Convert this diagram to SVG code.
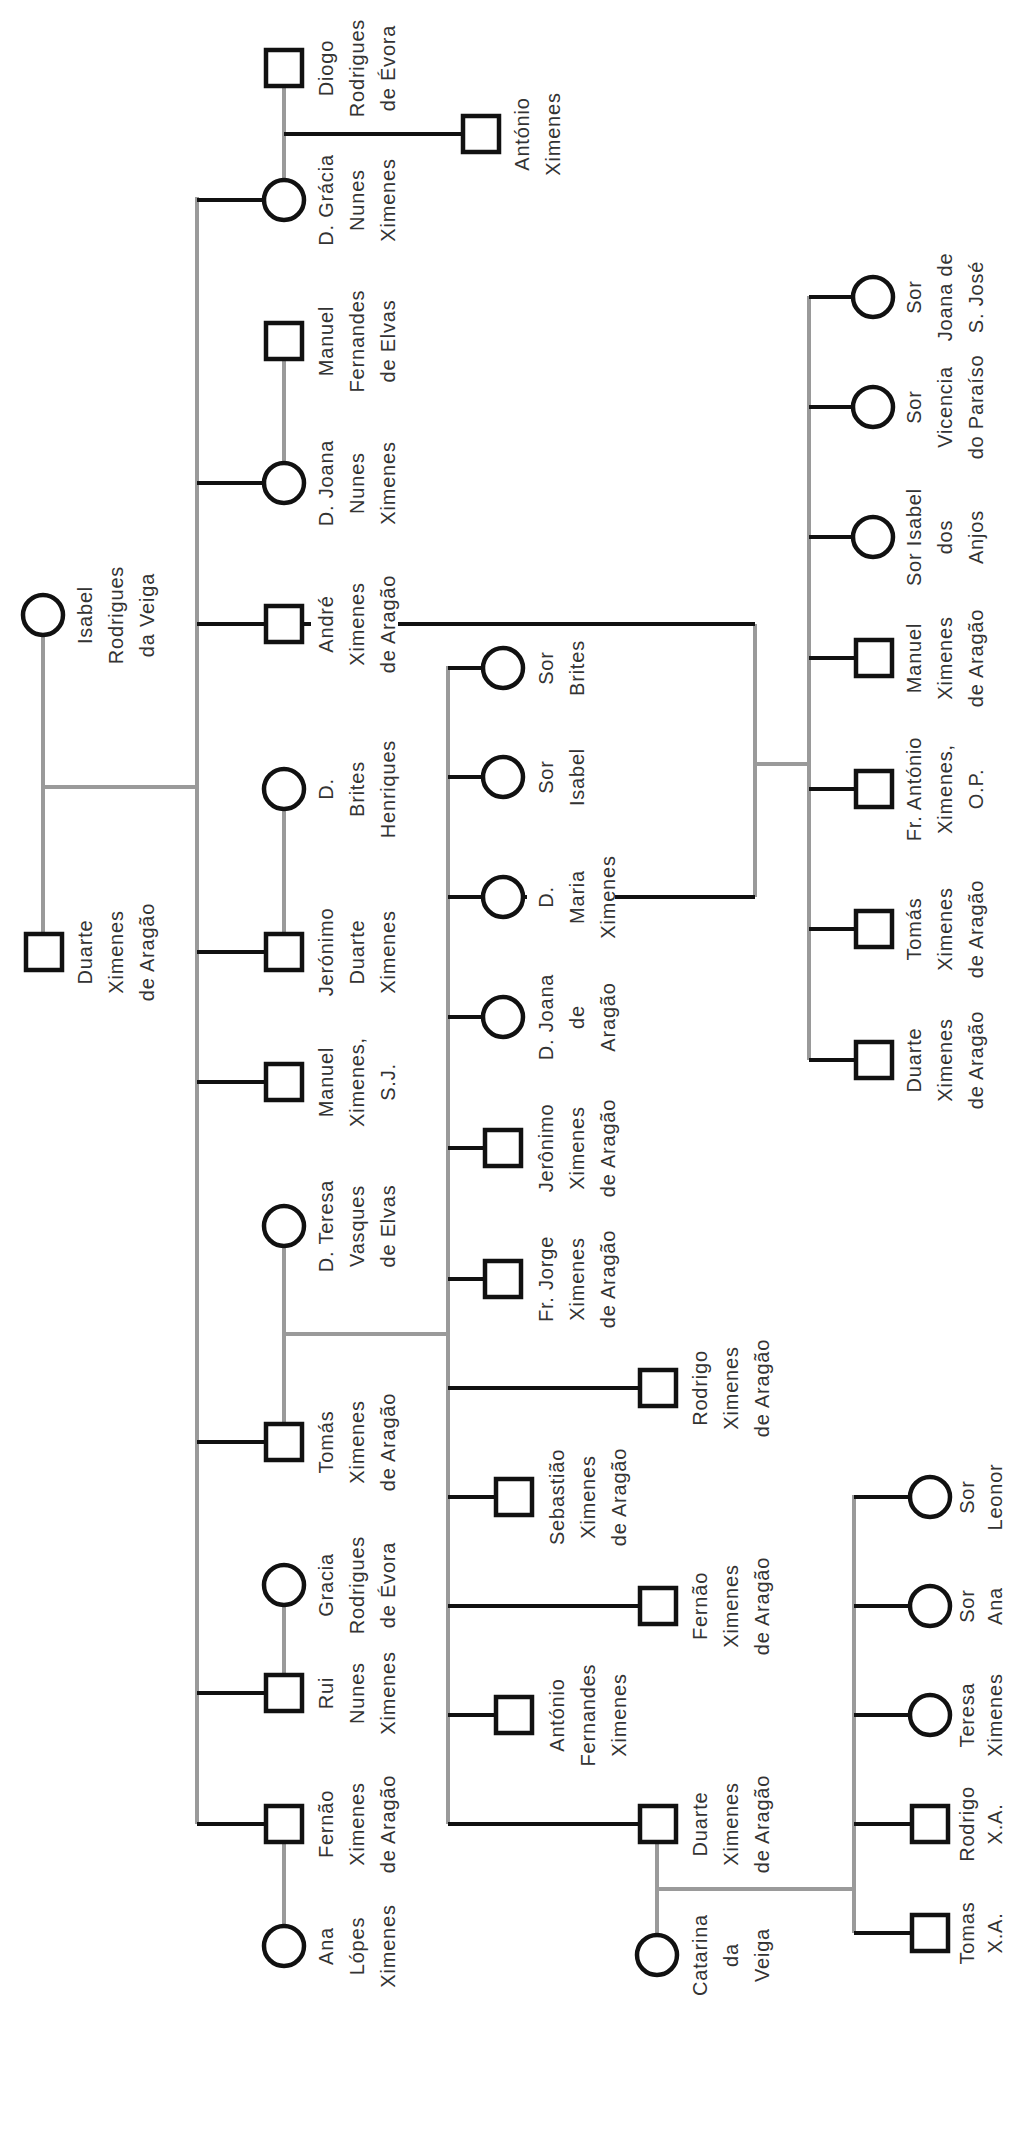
<svg xmlns="http://www.w3.org/2000/svg" width="1009" height="2130" viewBox="0 0 1009 2130">
<style>
.g{stroke:#9a9a9a;stroke-width:4;fill:none}
.b{stroke:#111;stroke-width:4;fill:none}
.sq,.ci{fill:#fff;stroke:#111;stroke-width:4.5}
text{font-family:"Liberation Sans",Arial,sans-serif;font-size:20px;fill:#333;letter-spacing:0.8px;text-anchor:middle}
</style>
<rect width="1009" height="2130" fill="#fff"/>
<g id="connectors">
<path class="g" d="M43 635V934M43 787H197M197 197V1824M284 86V181M284 341V464M284 809V934M284 1246V1424M284 1334H448M448 666V1824M284 1605V1675M284 1842V1926M755 624V897M755 764H809M809 296V1060M657 1842V1935M657 1889H854M854 1495V1933"/>
<path class="b" d="M197 200H265M197 483H265M197 624H265M197 952H265M197 1082H265M197 1442H265M197 1693H265M197 1824H265M284 134H462M303 624H311M398 624H755M523 897H527M615 897H755M448 668H484M448 777H484M448 897H484M448 1017H484M448 1148H484M448 1279H484M448 1388H639M448 1606H639M448 1824H639M448 1497H495M448 1715H495M809 297H855M809 407H855M809 537H855M809 658H855M809 789H855M809 929H855M809 1060H855M854 1497H911M854 1606H911M854 1715H911M854 1824H911M854 1933H911"/>
</g>
<g id="isabel"><circle class="ci" cx="43" cy="615" r="20"/><text transform="translate(92,615) rotate(-90)"><tspan x="0" y="0">Isabel</tspan><tspan x="0" y="31">Rodrigues</tspan><tspan x="0" y="62">da Veiga</tspan></text></g>
<g id="duarte1"><rect class="sq" x="26" y="934" width="36" height="36"/><text transform="translate(92,952) rotate(-90)"><tspan x="0" y="0">Duarte</tspan><tspan x="0" y="31">Ximenes</tspan><tspan x="0" y="62">de Aragão</tspan></text></g>
<g id="diogo"><rect class="sq" x="266" y="50" width="36" height="36"/><text transform="translate(333,68) rotate(-90)"><tspan x="0" y="0">Diogo</tspan><tspan x="0" y="31">Rodrigues</tspan><tspan x="0" y="62">de Évora</tspan></text></g>
<g id="gracia"><circle class="ci" cx="284" cy="200" r="20"/><text transform="translate(333,200) rotate(-90)"><tspan x="0" y="0">D. Grácia</tspan><tspan x="0" y="31">Nunes</tspan><tspan x="0" y="62">Ximenes</tspan></text></g>
<g id="antonio1"><rect class="sq" x="463" y="116" width="36" height="36"/><text transform="translate(529,134) rotate(-90)"><tspan x="0" y="0">António</tspan><tspan x="0" y="31">Ximenes</tspan></text></g>
<g id="manuelf"><rect class="sq" x="266" y="323" width="36" height="36"/><text transform="translate(333,341) rotate(-90)"><tspan x="0" y="0">Manuel</tspan><tspan x="0" y="31">Fernandes</tspan><tspan x="0" y="62">de Elvas</tspan></text></g>
<g id="djoana"><circle class="ci" cx="284" cy="483" r="20"/><text transform="translate(333,483) rotate(-90)"><tspan x="0" y="0">D. Joana</tspan><tspan x="0" y="31">Nunes</tspan><tspan x="0" y="62">Ximenes</tspan></text></g>
<g id="andre"><rect class="sq" x="266" y="606" width="36" height="36"/><text transform="translate(333,624) rotate(-90)"><tspan x="0" y="0">André</tspan><tspan x="0" y="31">Ximenes</tspan><tspan x="0" y="62">de Aragão</tspan></text></g>
<g id="brites"><circle class="ci" cx="284" cy="789" r="20"/><text transform="translate(333,789) rotate(-90)"><tspan x="0" y="0">D.</tspan><tspan x="0" y="31">Brites</tspan><tspan x="0" y="62">Henriques</tspan></text></g>
<g id="jeronimo"><rect class="sq" x="266" y="934" width="36" height="36"/><text transform="translate(333,952) rotate(-90)"><tspan x="0" y="0">Jerónimo</tspan><tspan x="0" y="31">Duarte</tspan><tspan x="0" y="62">Ximenes</tspan></text></g>
<g id="manuelsj"><rect class="sq" x="266" y="1064" width="36" height="36"/><text transform="translate(333,1082) rotate(-90)"><tspan x="0" y="0">Manuel</tspan><tspan x="0" y="31">Ximenes,</tspan><tspan x="0" y="62">S.J.</tspan></text></g>
<g id="teresa"><circle class="ci" cx="284" cy="1226" r="20"/><text transform="translate(333,1226) rotate(-90)"><tspan x="0" y="0">D. Teresa</tspan><tspan x="0" y="31">Vasques</tspan><tspan x="0" y="62">de Elvas</tspan></text></g>
<g id="tomas"><rect class="sq" x="266" y="1424" width="36" height="36"/><text transform="translate(333,1442) rotate(-90)"><tspan x="0" y="0">Tomás</tspan><tspan x="0" y="31">Ximenes</tspan><tspan x="0" y="62">de Aragão</tspan></text></g>
<g id="graciar"><circle class="ci" cx="284" cy="1585" r="20"/><text transform="translate(333,1585) rotate(-90)"><tspan x="0" y="0">Gracia</tspan><tspan x="0" y="31">Rodrigues</tspan><tspan x="0" y="62">de Évora</tspan></text></g>
<g id="rui"><rect class="sq" x="266" y="1675" width="36" height="36"/><text transform="translate(333,1693) rotate(-90)"><tspan x="0" y="0">Rui</tspan><tspan x="0" y="31">Nunes</tspan><tspan x="0" y="62">Ximenes</tspan></text></g>
<g id="fernao"><rect class="sq" x="266" y="1806" width="36" height="36"/><text transform="translate(333,1824) rotate(-90)"><tspan x="0" y="0">Fernão</tspan><tspan x="0" y="31">Ximenes</tspan><tspan x="0" y="62">de Aragão</tspan></text></g>
<g id="ana"><circle class="ci" cx="284" cy="1946" r="20"/><text transform="translate(333,1946) rotate(-90)"><tspan x="0" y="0">Ana</tspan><tspan x="0" y="31">Lópes</tspan><tspan x="0" y="62">Ximenes</tspan></text></g>
<g id="sorbrites"><circle class="ci" cx="503" cy="668" r="20"/><text transform="translate(553,668) rotate(-90)"><tspan x="0" y="0">Sor</tspan><tspan x="0" y="31">Brites</tspan></text></g>
<g id="sorisabel"><circle class="ci" cx="503" cy="777" r="20"/><text transform="translate(553,777) rotate(-90)"><tspan x="0" y="0">Sor</tspan><tspan x="0" y="31">Isabel</tspan></text></g>
<g id="dmaria"><circle class="ci" cx="503" cy="897" r="20"/><text transform="translate(553,897) rotate(-90)"><tspan x="0" y="0">D.</tspan><tspan x="0" y="31">Maria</tspan><tspan x="0" y="62">Ximenes</tspan></text></g>
<g id="djoanaa"><circle class="ci" cx="503" cy="1017" r="20"/><text transform="translate(553,1017) rotate(-90)"><tspan x="0" y="0">D. Joana</tspan><tspan x="0" y="31">de</tspan><tspan x="0" y="62">Aragão</tspan></text></g>
<g id="jeronimoxa"><rect class="sq" x="485" y="1130" width="36" height="36"/><text transform="translate(553,1148) rotate(-90)"><tspan x="0" y="0">Jerônimo</tspan><tspan x="0" y="31">Ximenes</tspan><tspan x="0" y="62">de Aragão</tspan></text></g>
<g id="frjorge"><rect class="sq" x="485" y="1261" width="36" height="36"/><text transform="translate(553,1279) rotate(-90)"><tspan x="0" y="0">Fr. Jorge</tspan><tspan x="0" y="31">Ximenes</tspan><tspan x="0" y="62">de Aragão</tspan></text></g>
<g id="rodrigo"><rect class="sq" x="640" y="1370" width="36" height="36"/><text transform="translate(707,1388) rotate(-90)"><tspan x="0" y="0">Rodrigo</tspan><tspan x="0" y="31">Ximenes</tspan><tspan x="0" y="62">de Aragão</tspan></text></g>
<g id="sebastiao"><rect class="sq" x="496" y="1479" width="36" height="36"/><text transform="translate(564,1497) rotate(-90)"><tspan x="0" y="0">Sebastião</tspan><tspan x="0" y="31">Ximenes</tspan><tspan x="0" y="62">de Aragão</tspan></text></g>
<g id="fernao2"><rect class="sq" x="640" y="1588" width="36" height="36"/><text transform="translate(707,1606) rotate(-90)"><tspan x="0" y="0">Fernão</tspan><tspan x="0" y="31">Ximenes</tspan><tspan x="0" y="62">de Aragão</tspan></text></g>
<g id="antoniof"><rect class="sq" x="496" y="1697" width="36" height="36"/><text transform="translate(564,1715) rotate(-90)"><tspan x="0" y="0">António</tspan><tspan x="0" y="31">Fernandes</tspan><tspan x="0" y="62">Ximenes</tspan></text></g>
<g id="duarte3"><rect class="sq" x="640" y="1806" width="36" height="36"/><text transform="translate(707,1824) rotate(-90)"><tspan x="0" y="0">Duarte</tspan><tspan x="0" y="31">Ximenes</tspan><tspan x="0" y="62">de Aragão</tspan></text></g>
<g id="catarina"><circle class="ci" cx="657" cy="1955" r="20"/><text transform="translate(707,1955) rotate(-90)"><tspan x="0" y="0">Catarina</tspan><tspan x="0" y="31">da</tspan><tspan x="0" y="62">Veiga</tspan></text></g>
<g id="sorjoana"><circle class="ci" cx="873" cy="297" r="20"/><text transform="translate(921,297) rotate(-90)"><tspan x="0" y="0">Sor</tspan><tspan x="0" y="31">Joana de</tspan><tspan x="0" y="62">S. José</tspan></text></g>
<g id="sorvicencia"><circle class="ci" cx="873" cy="407" r="20"/><text transform="translate(921,407) rotate(-90)"><tspan x="0" y="0">Sor</tspan><tspan x="0" y="31">Vicencia</tspan><tspan x="0" y="62">do Paraíso</tspan></text></g>
<g id="sorisabelanjos"><circle class="ci" cx="873" cy="537" r="20"/><text transform="translate(921,537) rotate(-90)"><tspan x="0" y="0">Sor Isabel</tspan><tspan x="0" y="31">dos</tspan><tspan x="0" y="62">Anjos</tspan></text></g>
<g id="manuel4"><rect class="sq" x="856" y="640" width="36" height="36"/><text transform="translate(921,658) rotate(-90)"><tspan x="0" y="0">Manuel</tspan><tspan x="0" y="31">Ximenes</tspan><tspan x="0" y="62">de Aragão</tspan></text></g>
<g id="frantonio"><rect class="sq" x="856" y="771" width="36" height="36"/><text transform="translate(921,789) rotate(-90)"><tspan x="0" y="0">Fr. António</tspan><tspan x="0" y="31">Ximenes,</tspan><tspan x="0" y="62">O.P.</tspan></text></g>
<g id="tomas4"><rect class="sq" x="856" y="911" width="36" height="36"/><text transform="translate(921,929) rotate(-90)"><tspan x="0" y="0">Tomás</tspan><tspan x="0" y="31">Ximenes</tspan><tspan x="0" y="62">de Aragão</tspan></text></g>
<g id="duarte4"><rect class="sq" x="856" y="1042" width="36" height="36"/><text transform="translate(921,1060) rotate(-90)"><tspan x="0" y="0">Duarte</tspan><tspan x="0" y="31">Ximenes</tspan><tspan x="0" y="62">de Aragão</tspan></text></g>
<g id="sorleonor"><circle class="ci" cx="930" cy="1497" r="20"/><text transform="translate(974,1497) rotate(-90)"><tspan x="0" y="0">Sor</tspan><tspan x="0" y="28">Leonor</tspan></text></g>
<g id="sorana"><circle class="ci" cx="930" cy="1606" r="20"/><text transform="translate(974,1606) rotate(-90)"><tspan x="0" y="0">Sor</tspan><tspan x="0" y="28">Ana</tspan></text></g>
<g id="teresax"><circle class="ci" cx="930" cy="1715" r="20"/><text transform="translate(974,1715) rotate(-90)"><tspan x="0" y="0">Teresa</tspan><tspan x="0" y="28">Ximenes</tspan></text></g>
<g id="rodrigoxa"><rect class="sq" x="912" y="1806" width="36" height="36"/><text transform="translate(974,1824) rotate(-90)"><tspan x="0" y="0">Rodrigo</tspan><tspan x="0" y="28">X.A.</tspan></text></g>
<g id="tomasxa"><rect class="sq" x="912" y="1915" width="36" height="36"/><text transform="translate(974,1933) rotate(-90)"><tspan x="0" y="0">Tomas</tspan><tspan x="0" y="28">X.A.</tspan></text></g>
</svg>
